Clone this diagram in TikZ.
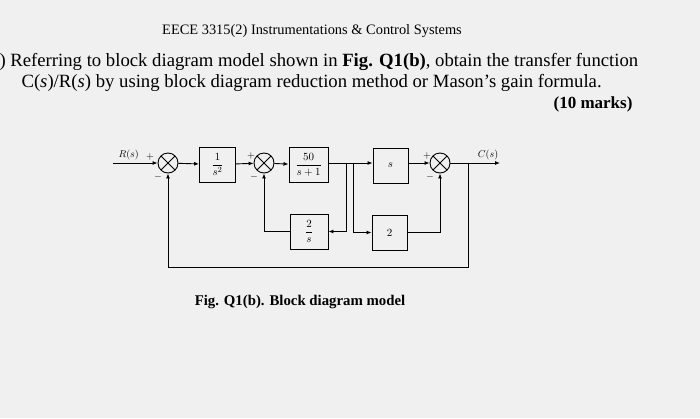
\documentclass[tikz,border=0pt]{standalone}
\usepackage{fontspec}
\setmainfont{Liberation Serif}
\usetikzlibrary{arrows.meta}
\begin{document}
\begin{tikzpicture}[x=1pt,y=-1pt,
  blk/.style={draw,line width=0.9pt,minimum width=36pt,minimum height=35pt,inner sep=0pt,font=\fontsize{11}{12}\selectfont},
  sumj/.style={draw,line width=0.9pt,circle,minimum size=20pt,inner sep=0pt,path picture={\draw[line width=0.9pt] (path picture bounding box.north west)--(path picture bounding box.south east) (path picture bounding box.north east)--(path picture bounding box.south west);}},
  sig/.style={line width=0.9pt,-{Latex[length=5pt,width=4pt]}},
  lbl/.style={font=\fontsize{10}{11}\selectfont,inner sep=1pt}]
\fill[gray!12] (0,0) rectangle (700,418);
\useasboundingbox (0,0) rectangle (700,418);
\node[font=\fontsize{14.4}{16}\selectfont] (title) at (312,31) {EECE 3315(2) Instrumentations \& Control Systems};
\node[anchor=west,font=\fontsize{18.7}{20}\selectfont] (l1) at (-4,62) {) Referring to block diagram model shown in \textbf{Fig. Q1(b)}, obtain the transfer function};
\node[anchor=west,font=\fontsize{18.7}{20}\selectfont] (l2) at (18,83) {C(\textit{s})/R(\textit{s}) by using block diagram reduction method or Mason’s gain formula.};
\node[anchor=east,font=\bfseries\fontsize{17}{19}\selectfont] (mk) at (636,104) {(10 marks)};
\node[font=\bfseries\fontsize{14.8}{16}\selectfont] (cap) at (300,302) {Fig. Q1(b). Block diagram model};
% diagram
\coordinate (in) at (113,163);
\node[sumj] (s1) at (168,163) {};
\node[blk] (b1) at (217.5,164.5) {$\displaystyle\frac{1}{s^2}$};
\node[sumj] (s2) at (264,163) {};
\node[blk,minimum width=39pt] (b2) at (308.5,165) {$\displaystyle\frac{50}{s+1}$};
\node[blk,minimum width=35pt] (b3) at (390.5,165.5) {$s$};
\node[sumj] (s3) at (440,163) {};
\node[blk,minimum width=38pt] (b4) at (309,231.5) {$\displaystyle\frac{2}{s}$};
\node[blk,minimum width=35pt] (b5) at (389.5,232.5) {$2$};
\coordinate (out) at (500,163);
\coordinate (p3) at (468,163);
\draw[sig] (in) -- (s1);
\draw[sig] (s1) -- (b1);
\draw[sig] (b1) -- (s2);
\draw[sig] (s2) -- (b2);
\draw[sig] (b2.east|-s2) -- (b3.west|-s2);
\draw[sig] (s3) -- (out);
\draw[sig] (b3.east|-s3) -- (s3);
\draw[sig] (b2.east|-s2) -| (346,231.5) -- (b4.east);
\draw[sig] (353,163) |- (b5.west);
\draw[sig] (b4.west) -| (s2.south);
\draw[sig] (b5.east) -| (s3.south);
\draw[sig] (p3|-s3) -- (468,267) -| (s1.south);
\node[lbl,anchor=south east] (rl) at (140,161) {$R(s)$};
\node[lbl,anchor=south] (pl1) at (150,162) {$+$};
\node[lbl,anchor=north east] (m1) at (163,172) {$-$};
\node[lbl,anchor=south east] (pl2) at (256,161) {$+$};
\node[lbl,anchor=north east] (m2) at (259,172) {$-$};
\node[lbl,anchor=south east] (pl3) at (432,161) {$+$};
\node[lbl,anchor=north east] (m3) at (435,172) {$-$};
\node[lbl,anchor=south] (cl) at (488,161) {$C(s)$};
\end{tikzpicture}
\end{document}
